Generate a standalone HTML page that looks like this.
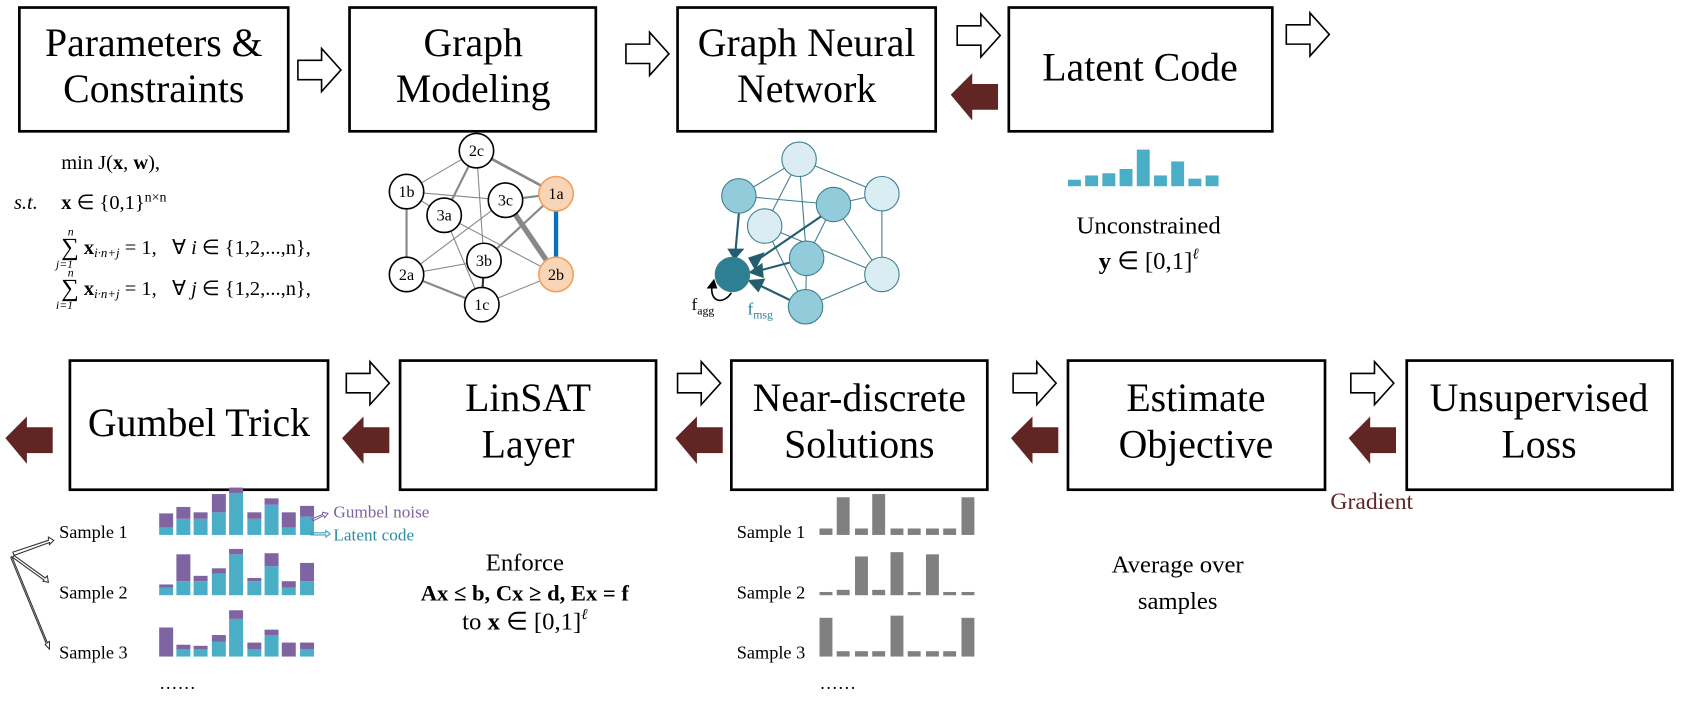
<!DOCTYPE html>
<html><head><meta charset="utf-8"><style>
html,body{margin:0;padding:0;background:#fff;width:1681px;height:705px;overflow:hidden}
svg{display:block}
text{font-family:"Liberation Serif",serif}
</style></head><body>
<svg width="1681" height="705" viewBox="0 0 1563 655" preserveAspectRatio="none" xmlns="http://www.w3.org/2000/svg">
<defs>
<g id="ha"><polygon points="0,-9 22,-9 22,-20 40,0 22,20 22,9 0,9" fill="#fff" stroke="#000" stroke-width="1.5"/></g>
<g id="ra"><polygon points="0,0 20,-20 20,-10 44,-10 44,14 20,14 20,24" fill="#612624"/></g>
</defs>
<g fill="#fff" stroke="#000" stroke-width="2.5">
<rect x="18" y="7" width="250" height="115"/>
<rect x="325" y="7" width="229" height="115"/>
<rect x="630" y="7" width="240" height="115"/>
<rect x="938" y="7" width="245" height="115"/>
<rect x="65" y="335" width="240" height="120"/>
<rect x="372" y="335" width="238" height="120"/>
<rect x="680" y="335" width="238" height="120"/>
<rect x="993" y="335" width="239" height="120"/>
<rect x="1308" y="335" width="247" height="120"/>
</g>
<g font-size="37" text-anchor="middle" fill="#000">
<text x="143" y="52">Parameters &amp;</text><text x="143" y="95">Constraints</text>
<text x="440" y="52">Graph</text><text x="440" y="95">Modeling</text>
<text x="750" y="52">Graph Neural</text><text x="750" y="95">Network</text>
<text x="1060" y="75">Latent Code</text>
<text x="185" y="405">Gumbel Trick</text>
<text x="491" y="382">LinSAT</text><text x="491" y="425">Layer</text>
<text x="799" y="382">Near-discrete</text><text x="799" y="425">Solutions</text>
<text x="1112" y="382">Estimate</text><text x="1112" y="425">Objective</text>
<text x="1431" y="382">Unsupervised</text><text x="1431" y="425">Loss</text>
</g>
<use href="#ha" x="277" y="65"/><use href="#ha" x="582" y="50"/><use href="#ha" x="890" y="33"/><use href="#ha" x="1196" y="32"/>
<use href="#ra" x="884" y="88"/>
<use href="#ha" x="322" y="356"/><use href="#ha" x="630" y="356"/><use href="#ha" x="942" y="356"/><use href="#ha" x="1256" y="356"/>
<use href="#ra" x="5" y="407"/><use href="#ra" x="318" y="407"/><use href="#ra" x="628" y="407"/><use href="#ra" x="940" y="407"/><use href="#ra" x="1254" y="407"/>
<text x="1237" y="473" font-size="22" fill="#612624">Gradient</text>
<!-- formula -->
<g font-size="19" fill="#000">
<text x="57" y="157">min J(<tspan font-weight="bold">x</tspan>, <tspan font-weight="bold">w</tspan>),</text>
<text x="13" y="194" font-style="italic">s.t.</text>
<text x="57" y="194"><tspan font-weight="bold">x</tspan> ∈ {0,1}<tspan font-size="13" dy="-7">n×n</tspan></text>
<text x="57" y="237" font-size="23">∑</text><text x="63" y="219" font-size="11" font-style="italic">n</text><text x="52" y="249" font-size="11" font-style="italic">j=1</text>
<text x="78" y="236"><tspan font-weight="bold">x</tspan><tspan font-size="12" font-style="italic" dy="3">i·n+j</tspan><tspan dy="-3" xml:space="preserve"> = 1,   ∀ </tspan><tspan font-style="italic">i</tspan> ∈ {1,2,...,n},</text>
<text x="57" y="275" font-size="23">∑</text><text x="63" y="257" font-size="11" font-style="italic">n</text><text x="52" y="287" font-size="11" font-style="italic">i=1</text>
<text x="78" y="274"><tspan font-weight="bold">x</tspan><tspan font-size="12" font-style="italic" dy="3">i·n+j</tspan><tspan dy="-3" xml:space="preserve"> = 1,   ∀ </tspan><tspan font-style="italic">j</tspan> ∈ {1,2,...,n},</text>
</g>
<!-- graph modeling -->
<g stroke="#888" stroke-width="1">
<line x1="443" y1="140" x2="378" y2="178"/><line x1="443" y1="140" x2="413" y2="200" stroke-width="2"/><line x1="443" y1="140" x2="450" y2="242"/>
<line x1="378" y1="178" x2="470" y2="186"/><line x1="378" y1="178" x2="413" y2="200"/><line x1="378" y1="178" x2="378" y2="255" stroke-width="2"/>
<line x1="413" y1="200" x2="517" y2="255"/><line x1="413" y1="200" x2="448" y2="283"/>
<line x1="470" y1="186" x2="378" y2="255"/><line x1="470" y1="186" x2="517" y2="180" stroke-width="2"/>
<line x1="517" y1="180" x2="450" y2="242" stroke-width="2"/>
<line x1="378" y1="255" x2="450" y2="242"/><line x1="378" y1="255" x2="448" y2="283" stroke-width="2"/>
<line x1="450" y1="242" x2="448" y2="283" stroke-width="2" stroke="#333"/><line x1="448" y1="283" x2="517" y2="255"/>
<line x1="443" y1="140" x2="517" y2="180" stroke-width="2.5"/>
<line x1="470" y1="186" x2="517" y2="255" stroke-width="5"/>
<line x1="517" y1="180" x2="517" y2="255" stroke="#0a6fc2" stroke-width="4"/>
</g>
<g stroke="#000" stroke-width="1.5" fill="#fff">
<circle cx="443" cy="140" r="16"/><circle cx="378" cy="178" r="16"/><circle cx="413" cy="200" r="16"/><circle cx="470" cy="186" r="16"/>
<circle cx="378" cy="255" r="16"/><circle cx="450" cy="242" r="16"/><circle cx="448" cy="283" r="16"/>
<circle cx="517" cy="180" r="16" fill="#f9d5b8" stroke="#f0a060"/><circle cx="517" cy="255" r="16" fill="#f9d5b8" stroke="#f0a060"/>
</g>
<g font-size="15" text-anchor="middle">
<text x="443" y="145">2c</text><text x="378" y="183">1b</text><text x="413" y="205">3a</text><text x="470" y="191">3c</text>
<text x="378" y="260">2a</text><text x="450" y="247">3b</text><text x="448" y="288">1c</text><text x="517" y="185">1a</text><text x="517" y="260">2b</text>
</g>
<!-- GNN -->
<g stroke="#3d7f8e" stroke-width="1">
<line x1="743" y1="148" x2="687" y2="182"/><line x1="743" y1="148" x2="820" y2="180"/><line x1="743" y1="148" x2="711" y2="210"/><line x1="743" y1="148" x2="750" y2="240"/>
<line x1="687" y1="182" x2="775" y2="190"/><line x1="820" y1="180" x2="775" y2="190"/><line x1="820" y1="180" x2="820" y2="255"/>
<line x1="711" y1="210" x2="820" y2="255"/><line x1="711" y1="210" x2="749" y2="285"/><line x1="775" y1="190" x2="750" y2="240"/><line x1="775" y1="190" x2="820" y2="255"/>
<line x1="750" y1="240" x2="749" y2="285"/><line x1="820" y1="255" x2="749" y2="285"/>
</g>
<g stroke="#245e6e" stroke-width="2" fill="#245e6e">
<line x1="687" y1="198" x2="684" y2="232"/><polygon points="678,232 690,232 683,240"/>
<line x1="765" y1="200" x2="702" y2="243"/><polygon points="697,240 709,236 702,249"/>
<line x1="734" y1="244" x2="704" y2="252"/><polygon points="698,253 708,246 709,257"/>
<line x1="735" y1="279" x2="704" y2="264"/><polygon points="697,261 710,260 705,270"/>
</g>
<g stroke="#3d7f8e" stroke-width="1">
<circle cx="743" cy="148" r="16" fill="#daedf2"/><circle cx="687" cy="182" r="16" fill="#92ccda"/><circle cx="820" cy="180" r="16" fill="#daedf2"/>
<circle cx="711" cy="210" r="16" fill="#daedf2"/><circle cx="775" cy="190" r="16" fill="#92ccda"/><circle cx="750" cy="240" r="16" fill="#92ccda"/>
<circle cx="820" cy="255" r="16" fill="#daedf2"/><circle cx="749" cy="285" r="16" fill="#92ccda"/><circle cx="681" cy="255" r="16" fill="#2e7f93"/>
</g>
<path d="M680,272 C672,284 660,280 662,266" fill="none" stroke="#000" stroke-width="1.5"/><polygon points="657,268 667,268 664,259" fill="#000"/>
<text x="643" y="288" font-size="16">f<tspan font-size="11" dy="4">agg</tspan></text>
<text x="695" y="292" font-size="16" fill="#2e7f93">f<tspan font-size="11" dy="4">msg</tspan></text>
<!-- latent bars -->
<g fill="#4aaec6">
<rect x="993" y="167" width="12" height="6"/><rect x="1009" y="163" width="12" height="10"/><rect x="1025" y="161" width="12" height="12"/><rect x="1041" y="157" width="12" height="16"/>
<rect x="1057" y="139" width="12" height="34"/><rect x="1073" y="163" width="12" height="10"/><rect x="1089" y="150" width="12" height="23"/><rect x="1105" y="166" width="12" height="7"/><rect x="1121" y="163" width="12" height="10"/>
</g>
<text x="1068" y="217" font-size="23" text-anchor="middle">Unconstrained</text>
<text x="1068" y="250" font-size="23" text-anchor="middle"><tspan font-weight="bold">y</tspan> ∈ [0,1]<tspan font-size="14" dy="-10" font-style="italic">ℓ</tspan></text>
<!-- gumbel samples -->
<g font-size="17">
<text x="55" y="500">Sample 1</text><text x="55" y="556">Sample 2</text><text x="55" y="612">Sample 3</text><text x="148" y="640">……</text>
</g>
<g fill="none" stroke="#333" stroke-width="1">
<polygon points="12,513 45,502 45,499 50,502 46,506 46,504 13,516"/>
<polygon points="13,516 42,537 44,535 45,541 40,540 41,539 12,518"/>
<polygon points="11,517 44,597 46,596 46,603 42,599 43,598 10,518"/>
</g>
<g fill="#4aaec6">
<rect x="148" y="490" width="13" height="7"/><rect x="164" y="482" width="13" height="15"/><rect x="180" y="482" width="13" height="15"/><rect x="197" y="476" width="13" height="21"/><rect x="213" y="458" width="13" height="39"/><rect x="230" y="482" width="13" height="15"/><rect x="246" y="469" width="13" height="28"/><rect x="262" y="490" width="13" height="7"/><rect x="279" y="480" width="13" height="17"/>
<rect x="148" y="546" width="13" height="7"/><rect x="164" y="540" width="13" height="13"/><rect x="180" y="540" width="13" height="13"/><rect x="197" y="533" width="13" height="20"/><rect x="213" y="515" width="13" height="38"/><rect x="230" y="540" width="13" height="13"/><rect x="246" y="526" width="13" height="27"/><rect x="262" y="546" width="13" height="7"/><rect x="279" y="540" width="13" height="13"/>
<rect x="164" y="603" width="13" height="7"/><rect x="180" y="603" width="13" height="7"/><rect x="197" y="596" width="13" height="14"/><rect x="213" y="575" width="13" height="35"/><rect x="230" y="603" width="13" height="7"/><rect x="246" y="590" width="13" height="20"/><rect x="279" y="603" width="13" height="7"/>
</g>
<g fill="#7e64a0">
<rect x="148" y="477" width="13" height="13"/><rect x="164" y="471" width="13" height="11"/><rect x="180" y="476" width="13" height="6"/><rect x="197" y="459" width="13" height="17"/><rect x="213" y="453" width="13" height="5"/><rect x="230" y="476" width="13" height="6"/><rect x="246" y="463" width="13" height="6"/><rect x="262" y="476" width="13" height="14"/><rect x="279" y="470" width="13" height="10"/>
<rect x="148" y="543" width="13" height="3"/><rect x="164" y="515" width="13" height="25"/><rect x="180" y="535" width="13" height="5"/><rect x="197" y="528" width="13" height="5"/><rect x="213" y="510" width="13" height="5"/><rect x="230" y="537" width="13" height="3"/><rect x="246" y="514" width="13" height="12"/><rect x="262" y="540" width="13" height="6"/><rect x="279" y="523" width="13" height="17"/>
<rect x="148" y="583" width="13" height="27"/><rect x="164" y="599" width="13" height="4"/><rect x="180" y="600" width="13" height="3"/><rect x="197" y="590" width="13" height="6"/><rect x="213" y="567" width="13" height="8"/><rect x="230" y="597" width="13" height="6"/><rect x="246" y="585" width="13" height="5"/><rect x="262" y="597" width="13" height="13"/><rect x="279" y="597" width="13" height="6"/>
</g>
<polygon points="290,482 300,478 300,476 305,477 302,481 301,479 291,484" fill="none" stroke="#7e64a0"/>
<polygon points="289,495 303,495 303,493 307,496 303,499 303,497 289,497" fill="none" stroke="#3d9fb8"/>
<text x="310" y="481" font-size="16" fill="#7e64a0">Gumbel noise</text>
<text x="310" y="502" font-size="16" fill="#2e8ca5">Latent code</text>
<!-- LinSAT text -->
<text x="488" y="530" font-size="23" text-anchor="middle">Enforce</text>
<text x="488" y="558" font-size="21" text-anchor="middle" font-weight="bold">Ax ≤ b, Cx ≥ d, Ex = f</text>
<text x="488" y="585" font-size="23" text-anchor="middle">to <tspan font-weight="bold">x</tspan> ∈ [0,1]<tspan font-size="14" dy="-10" font-style="italic">ℓ</tspan></text>
<!-- near-discrete -->
<g font-size="17"><text x="685" y="500">Sample 1</text><text x="685" y="556">Sample 2</text><text x="685" y="612">Sample 3</text><text x="762" y="640">……</text></g>
<g fill="#808080">
<rect x="762" y="491" width="12" height="6"/><rect x="778" y="462" width="12" height="35"/><rect x="795" y="491" width="12" height="6"/><rect x="811" y="459" width="12" height="38"/><rect x="828" y="491" width="12" height="6"/><rect x="844" y="491" width="12" height="6"/><rect x="861" y="491" width="12" height="6"/><rect x="877" y="491" width="12" height="6"/><rect x="894" y="462" width="12" height="35"/>
<rect x="762" y="550" width="12" height="3"/><rect x="778" y="548" width="12" height="5"/><rect x="795" y="517" width="12" height="36"/><rect x="811" y="548" width="12" height="5"/><rect x="828" y="513" width="12" height="40"/><rect x="844" y="550" width="12" height="3"/><rect x="861" y="515" width="12" height="38"/><rect x="877" y="550" width="12" height="3"/><rect x="894" y="550" width="12" height="3"/>
<rect x="762" y="574" width="12" height="36"/><rect x="778" y="605" width="12" height="5"/><rect x="795" y="605" width="12" height="5"/><rect x="811" y="605" width="12" height="5"/><rect x="828" y="572" width="12" height="38"/><rect x="844" y="605" width="12" height="5"/><rect x="861" y="605" width="12" height="5"/><rect x="877" y="605" width="12" height="5"/><rect x="894" y="574" width="12" height="36"/>
</g>
<text x="1095" y="532" font-size="23" text-anchor="middle">Average over</text>
<text x="1095" y="566" font-size="23" text-anchor="middle">samples</text>
</svg>
</body></html>
